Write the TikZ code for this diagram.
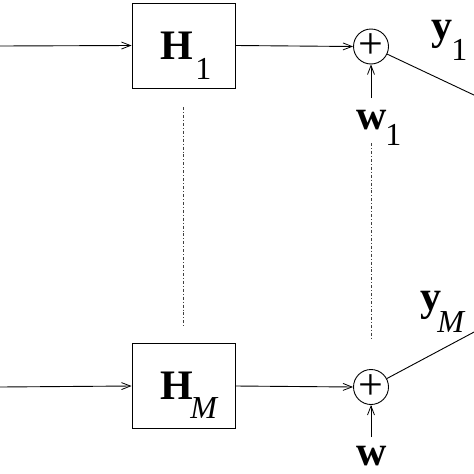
\documentclass[tikz,border=0pt]{standalone}
\usepackage{fontspec}
\setmainfont{Liberation Serif}
\usetikzlibrary{arrows.meta}
\begin{document}
\begin{tikzpicture}[x=1pt,y=-1pt, line width=0.9pt,
  blk/.style={draw, minimum width=103pt, minimum height=85pt, inner sep=0pt},
  sum/.style={draw, circle, minimum size=35pt, inner sep=0pt},
  arr/.style={-{Straight Barb[length=9pt,width=7pt,line width=0.8pt]}},
  lbl/.style={inner sep=0pt, anchor=base west, font=\fontsize{42}{42}\selectfont\bfseries},
  sublbl/.style={inner sep=0pt, anchor=base west, font=\fontsize{32}{32}\selectfont},
  plus/.style={inner sep=0pt, font=\fontsize{44}{44}\selectfont},
  guide/.style={dash dot, line width=0.8pt, black!75}]
\useasboundingbox (0,0) rectangle (474,474);
% top branch
\coordinate (in1) at (0,46);
\node[blk] (h1) at (183.5,45.5) {};
\node[lbl] (h1l) at (160,59) {H};
\node[sublbl] (h1s) at (195,79) {1};
\node[sum] (s1) at (371,46.5) {};
\node[plus] (p1) at (s1.center) {+};
\coordinate (o1) at (476,96);
\coordinate (w1s) at (371,98);
\node[lbl] (w1l) at (356,129) {w};
\node[sublbl] (w1s2) at (385,145) {1};
\node[lbl] (y1l) at (431,39) {y};
\node[sublbl] (y1s) at (451,60) {1};
\draw[arr] (in1) -- (h1.west);
\draw[arr] (h1.east) -- (s1.west);
\draw (s1) -- (o1);
\draw[arr] (w1s) -- (s1.south);
% guides
\coordinate (ga1) at (183,107);
\coordinate (ga2) at (183,328);
\coordinate (gb1) at (371,143);
\coordinate (gb2) at (371,340);
\draw[guide] (ga1) -- (ga2);
\draw[guide] (gb1) -- (gb2);
% bottom branch
\coordinate (inM) at (0,387);
\node[blk] (hM) at (183.5,386) {};
\node[lbl] (hMl) at (160,399) {H};
\node[sublbl] (hMs) at (190,418) {\itshape M};
\node[sum] (sM) at (371,387) {};
\node[plus] (pM) at (sM.center) {+};
\coordinate (oM) at (476,331);
\coordinate (wMs) at (371,437);
\node[lbl] (wMl) at (356,465) {w};
\node[lbl] (yMl) at (420,310) {y};
\node[sublbl] (yMs) at (437,332) {\itshape M};
\draw[arr] (inM) -- (hM.west);
\draw[arr] (hM.east) -- (sM.west);
\draw (sM) -- (oM);
\draw[arr] (wMs) -- (sM.south);
\end{tikzpicture}
\end{document}
